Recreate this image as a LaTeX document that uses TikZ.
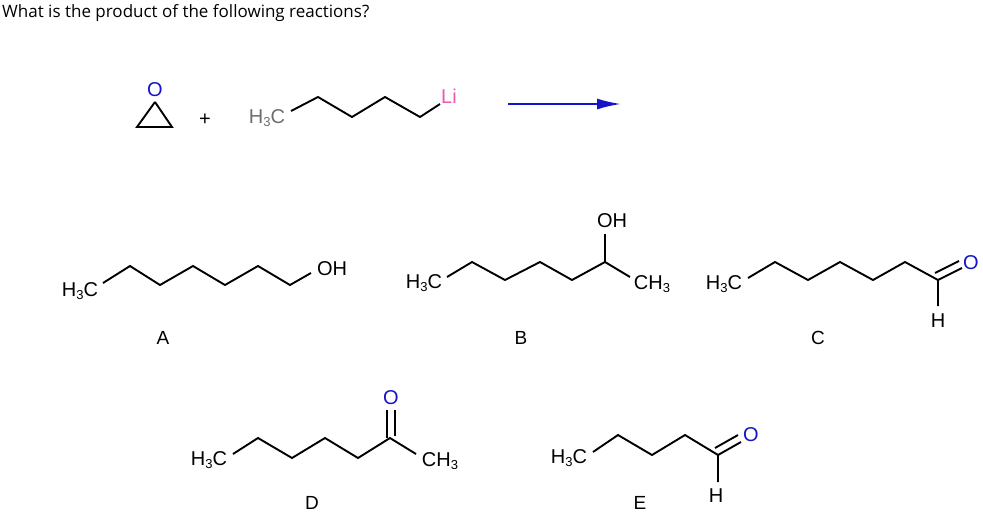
\documentclass[tikz,border=0pt]{standalone}
\usepackage{fontspec}
\setmainfont{Liberation Sans}
\newfontfamily\titlefont{Open Sans}
\usetikzlibrary{arrows.meta}
\definecolor{oblue}{RGB}{20,20,200}
\definecolor{lipink}{RGB}{230,90,180}
\definecolor{cgray}{RGB}{110,110,110}
\newcommand{\sub}[1]{\raisebox{-0.3ex}{\fontsize{13}{13}\selectfont #1}}
\begin{document}
\begin{tikzpicture}[x=1pt,y=-1pt,
  bond/.style={line width=1.9pt,line join=miter},
  atom/.style={inner sep=0pt,font=\fontsize{20}{20}\selectfont},
  lab/.style={inner sep=0pt,font=\fontsize{19}{19}\selectfont}]
\useasboundingbox (0,0) rectangle (983,515);
\node[anchor=west,inner sep=0pt,font=\titlefont\fontsize{17}{17}\selectfont] (title) at (2,13) {What is the product of the following reactions?};
% epoxide
\node[atom,text=oblue] (eo) at (155,90) {O};
\draw[bond] (155,102) -- (137,127) -- (172,127) -- (155,102);
\node[atom] (plus) at (205,120) {+};
\node[atom,text=cgray] (r1) at (267,118) {H\sub{3}C};
\draw[bond] (291,111) -- (318,97) -- (352,117) -- (385,97) -- (420,117) -- (440,104);
\node[atom,text=lipink] (li) at (449,96) {Li};
\coordinate (a1) at (508,104); \coordinate (a2) at (621,104);
\draw[line width=2pt,oblue,-{Latex[length=24pt,width=11pt]}] (a1) -- (a2);
% A
\node[atom] (ah) at (80,291) {H\sub{3}C};
\draw[bond] (103,283) -- (130,266) -- (160,285) -- (193,266) -- (225,285) -- (258,266) -- (290,285) -- (311,273);
\node[atom] (aoh) at (332,269) {OH};
\node[lab] (la) at (163,338) {A};
% B
\node[atom] (bh) at (424,283) {H\sub{3}C};
\draw[bond] (447,277) -- (472,262) -- (505,280) -- (540,262) -- (572,280) -- (605,262) -- (630,277);
\draw[bond] (605,262) -- (605,234);
\node[atom] (boh) at (612,221) {OH};
\node[atom] (bch) at (652,284) {CH\sub{3}};
\node[lab] (lb) at (521,338) {B};
% C
\node[atom] (ch) at (724,284) {H\sub{3}C};
\draw[bond] (748,278) -- (775,262) -- (808,280) -- (840,262) -- (873,280) -- (905,262) -- (938,280) -- (938,306);
\draw[bond] (938,280) -- (962,268);
\draw[bond] (935,273) -- (959,261);
\node[atom,text=oblue] (co) at (971,263) {O};
\node[atom] (chh) at (938,321) {H};
\node[lab] (lc) at (818,338) {C};
% D
\node[atom] (dh) at (209,460) {H\sub{3}C};
\draw[bond] (233,454) -- (258,438) -- (292,458) -- (325,438) -- (358,458) -- (390,438) -- (416,454);
\draw[bond] (387,438) -- (387,410);
\draw[bond] (395,436) -- (395,410);
\node[atom,text=oblue] (do) at (391,398) {O};
\node[atom] (dch) at (440,461) {CH\sub{3}};
\node[lab] (ld) at (312,503) {D};
% E
\node[atom] (eh) at (569,458) {H\sub{3}C};
\draw[bond] (593,452) -- (618,435) -- (652,455) -- (685,435) -- (718,455) -- (718,482);
\draw[bond] (718,455) -- (741,442);
\draw[bond] (715,448) -- (738,435);
\node[atom,text=oblue] (eo2) at (751,435) {O};
\node[atom] (ehh) at (716,496) {H};
\node[lab] (le) at (640,503) {E};
\end{tikzpicture}
\end{document}
